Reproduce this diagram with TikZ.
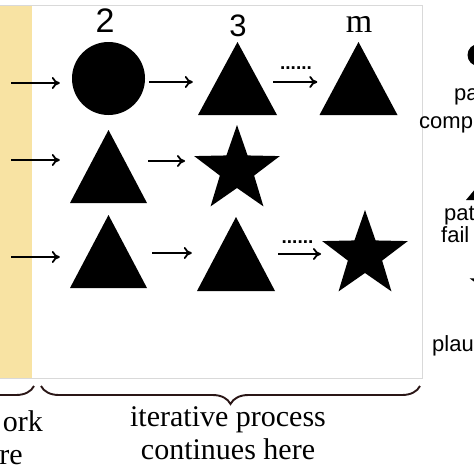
\documentclass[tikz,border=0pt]{standalone}
\usepackage{fontspec}
\setmainfont{Liberation Serif}
\newfontfamily\lsans{Liberation Sans}
\newfontfamily\lserif{Liberation Serif}
\usetikzlibrary{arrows.meta,shapes.geometric,decorations.pathreplacing}
\definecolor{bandyellow}{HTML}{F8E3A3}
\definecolor{framegray}{HTML}{D9D9D9}
\definecolor{bracecol}{HTML}{2A1616}
\begin{document}
\begin{tikzpicture}[x=1pt,y=-1pt,
  arr/.style={line width=1.8pt,-{To[length=8pt,width=12pt]}},
  tri/.style={inner sep=0pt,minimum width=77pt,minimum height=73pt,
    path picture={\fill[black] (path picture bounding box.north) --
      (path picture bounding box.south east) --
      (path picture bounding box.south west) -- cycle;}},
  circ/.style={circle,fill=black,inner sep=0pt,minimum size=73pt},
  starn/.style={star,star points=5,star point ratio=2.5,fill=black,inner sep=0pt,minimum size=90pt},
  numlab/.style={anchor=base,inner sep=0pt},
  leg/.style={anchor=base west,inner sep=0pt,font=\lsans\fontsize{22}{26}\selectfont},
  bottomtxt/.style={inner sep=0pt,font=\lserif\fontsize{30}{33}\selectfont},
  dotsn/.style={anchor=base,inner sep=0pt,font=\lsans\bfseries\fontsize{19}{19}\selectfont},
  brace/.style={decorate,decoration={brace,amplitude=18pt},line width=1.9pt,draw=bracecol}
]
\useasboundingbox (0,0) rectangle (474,474);
% background band and frame
\fill[bandyellow] (-2,5.5) rectangle (32,377.5);
\draw[framegray,line width=1pt] (-2,5) rectangle (422,378);

% column numbers
\node[numlab,font=\lsans\fontsize{34}{34}\selectfont] (n2) at (105,32) {2};
\node[numlab,font=\lsans\fontsize{31}{31}\selectfont] (n3) at (238,36) {3};
\node[numlab,font=\lserif\fontsize{34}{34}\selectfont] (nm) at (359,32) {m};

% row 1
\node[circ] (c1) at (108.5,78.5) {};
\node[tri,minimum width=79pt] (t12) at (237.5,78.5) {};
\node[tri,minimum width=78pt] (t13) at (358.5,78.5) {};
% row 2
\node[tri] (t21) at (108.5,166.5) {};
\node[starn] (s22) at (237,170) {};
% row 3
\node[tri] (t31) at (108.5,251.5) {};
\node[tri,minimum width=78pt,minimum height=74pt] (t32) at (236,254) {};
\node[starn] (s33) at (365,255) {};

% arrow reference points
\coordinate (l1) at (11,83);
\coordinate (l2) at (11,160);
\coordinate (l3) at (11,257);
\coordinate (r1) at (0,82);
\coordinate (r2) at (0,161);
\coordinate (r3) at (0,253);
\coordinate (r3b) at (0,254);

\draw[arr,shorten >=12pt] (l1) -- (l1 -| c1.west);
\draw[arr,shorten <=4pt,shorten >=5pt] (c1.east |- r1) -- (t12.west |- r1);
\draw[arr,shorten <=-4pt,shorten >=2pt] (t12.east |- r1) -- (t13.west |- r1);
\node[dotsn] (d1) at (296,69.5) {......};

\draw[arr,shorten >=10pt] (l2) -- (l2 -| t21.west);
\draw[arr,shorten <=1pt,shorten >=52pt] (t21.east |- r2) -- (s22.center |- r2);

\draw[arr,shorten >=10pt] (l3) -- (l3 -| t31.west);
\draw[arr,shorten <=5pt,shorten >=5pt] (t31.east |- r3) -- (t32.west |- r3);
\draw[arr,shorten <=3pt,shorten >=44pt] (t32.east |- r3b) -- (s33.center |- r3b);
\node[dotsn] (d3) at (297.5,243.5) {......};

% legend (cropped at right edge)
\node[circle,fill=black,inner sep=0pt,minimum size=22pt] (lc) at (478.5,55) {};
\node[leg] (lpa) at (454,100) {pa};
\node[leg] (lcomp) at (419,128) {comp};
\node[tri,minimum width=20pt,minimum height=12pt] (lt) at (476,194) {};
\node[leg] (lpat) at (444,220) {pat};
\node[leg] (lfail) at (441,242) {fail};
\node[starn,minimum size=30pt] (ls) at (484,283) {};
\node[leg] (lplau) at (432,351) {plau};

% braces
\coordinate (b1a) at (-80,386);
\coordinate (b1b) at (34,386);
\coordinate (b2a) at (41,386);
\coordinate (b2b) at (420,386);
\draw[brace] (b1b) -- (b1a);
\draw[brace] (b2b) -- (b2a);

% bottom texts
\node[bottomtxt,anchor=base] (it1) at (228,426) {iterative process};
\node[bottomtxt,anchor=base] (it2) at (228,459) {continues here};
\node[bottomtxt,anchor=base east] (nw1) at (43,431) {ork};
\node[bottomtxt,anchor=base east] (nw2) at (23,464) {re};
\end{tikzpicture}
\end{document}
